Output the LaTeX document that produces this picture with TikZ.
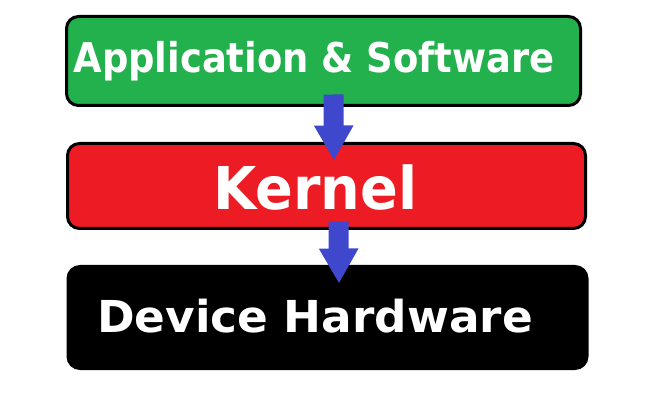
\documentclass[tikz,border=0pt]{standalone}
\usepackage{fontspec}
\setmainfont{DejaVu Sans}
\newfontfamily\appfont{DejaVu Sans}[FakeStretch=0.9]
\newfontfamily\kernfont{DejaVu Sans}[FakeStretch=0.945]
\newfontfamily\hwfont{DejaVu Sans}[FakeStretch=1.03]
\usetikzlibrary{arrows.meta,calc}
\definecolor{paintgreen}{HTML}{22B14C}
\definecolor{paintred}{HTML}{ED1C24}
\definecolor{paintblue}{HTML}{3F48CC}
\tikzstyle{layer}=[rectangle,draw=black,line width=3pt,rounded corners=12pt,inner sep=0pt]
\tikzstyle{layertext}=[anchor=base,text=white,inner sep=0pt]
\tikzstyle{flow}=[draw=paintblue,line width=20pt,-{Triangle[length=35pt,width=37pt]}]

\begin{document}
\begin{tikzpicture}[x=1pt,y=-1pt]
	\useasboundingbox (0,0) rectangle (650,419);

	\node[layer,fill=paintgreen,minimum width=514pt,minimum height=89pt] (app) at (323.5,61) {};
	\node[layer,fill=paintred,minimum width=518pt,minimum height=85pt] (kern) at (326.5,186) {};
	\node[layer,fill=black,minimum width=519pt,minimum height=102pt] (hw) at (327.5,317.5) {};

	\node[layertext] (apptext) at ([xshift=-9.5pt,yshift=-12pt]app.center) {\appfont\bfseries\fontsize{41}{45}\selectfont Application \& Software};
	\node[layertext] (kerntext) at ([xshift=-11pt,yshift=-24pt]kern.center) {\kernfont\bfseries\fontsize{59}{64}\selectfont Kernel};
	\node[layertext] (hwtext) at ([xshift=-12.5pt,yshift=-14.5pt]hw.center) {\hwfont\bfseries\fontsize{44}{48}\selectfont Device Hardware};

	\draw[flow] ([xshift=10pt,yshift=12.5pt]app.south) -- ([xshift=7.5pt,yshift=-18.5pt]kern.north);
	\draw[flow] ([xshift=12pt,yshift=8.5pt]kern.south) -- ([xshift=11.5pt,yshift=-18.5pt]hw.north);
\end{tikzpicture}
\end{document}
